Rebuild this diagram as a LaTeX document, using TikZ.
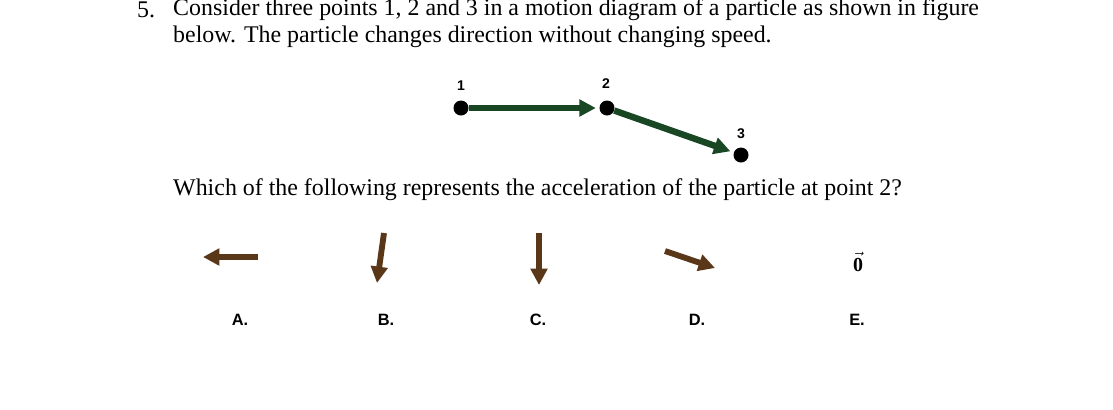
\documentclass[tikz,border=0pt]{standalone}
\usepackage{fontspec}
\setmainfont{Liberation Serif}
\setsansfont{Liberation Sans}
\usetikzlibrary{arrows.meta}
\definecolor{dg}{RGB}{25,70,35}
\definecolor{br}{RGB}{90,55,25}
\begin{document}
\begin{tikzpicture}[x=0.03cm,y=-0.03cm,
  txt/.style={anchor=west,inner sep=0,font=\fontsize{20.4}{24}\selectfont},
  dot/.style={circle,fill=black,inner sep=0,minimum size=15*0.03cm},
  plab/.style={font=\sffamily\bfseries\fontsize{12}{14}\selectfont,inner sep=0},
  mv/.style={dg,line width=5.5pt,-{Triangle[length=14pt,width=14pt]},shorten >=3pt},
  acc/.style={br,line width=5pt,-{Triangle[length=14pt,width=14pt]}},
  olab/.style={font=\sffamily\bfseries\fontsize{14}{16}\selectfont,inner sep=0}]
\useasboundingbox (0,0) rectangle (1113,409);
\node[txt] (n5) at (137,10) {5.};
\node[txt] (l1) at (173,10) {Consider three points 1, 2 and 3 in a motion diagram of a particle as shown in figure};
\node[txt] (l2) at (173,37) {below. The particle changes direction without changing speed.};
\node[dot] (p1) at (461,108) {};
\node[dot] (p2) at (607,108) {};
\node[dot] (p3) at (741,155) {};
\node[plab] (t1) at (461,86) {1};
\node[plab] (t2) at (606,84) {2};
\node[plab] (t3) at (741,134) {3};
\draw[mv] (p1) -- (p2);
\draw[mv] (p2) -- (p3);
\node[txt] (q) at (173,190) {Which of the following represents the acceleration of the particle at point 2?};
\coordinate (a1) at (258,257); \coordinate (a2) at (203,257);
\coordinate (b1) at (384,233); \coordinate (b2) at (377,283);
\coordinate (c1) at (539,233); \coordinate (c2) at (539,285);
\coordinate (d1) at (665,251); \coordinate (d2) at (715,268);
\draw[acc] (a1) -- (a2);
\draw[acc] (b1) -- (b2);
\draw[acc] (c1) -- (c2);
\draw[acc] (d1) -- (d2);
\node[font=\fontsize{17}{19}\selectfont,inner sep=0] (e0) at (858,262) {$\vec{\mathbf{0}}$};
\node[olab] (oa) at (240,320) {A.};
\node[olab] (ob) at (386,320) {B.};
\node[olab] (oc) at (538,320) {C.};
\node[olab] (od) at (697,320) {D.};
\node[olab] (oe) at (857,320) {E.};
\end{tikzpicture}
\end{document}
